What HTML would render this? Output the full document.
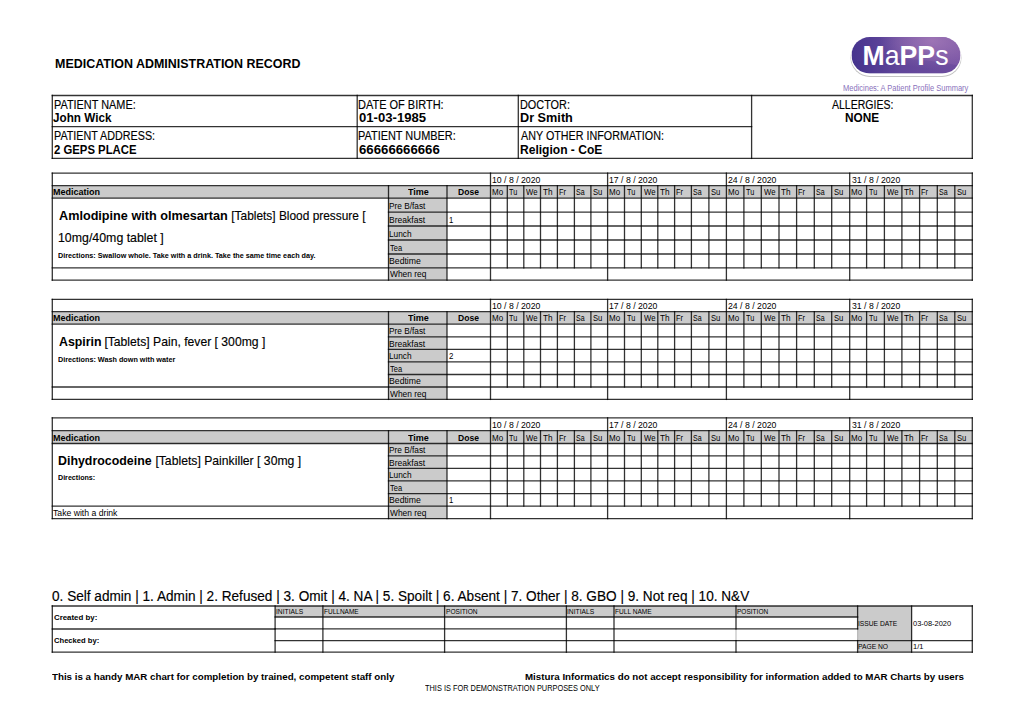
<!DOCTYPE html><html><head><meta charset="utf-8"><title>MAR</title><style>
html,body{margin:0;padding:0;background:#fff;}body{width:1024px;height:724px;position:relative;overflow:hidden;font-family:"Liberation Sans",sans-serif;}
.r{position:absolute;}.t{position:absolute;white-space:pre;line-height:0;transform-origin:0 0;}.s{-webkit-text-stroke:0.15px currentColor;}
</style></head><body>
<div class="r" style="left:52.00px;top:186.00px;width:920.00px;height:12.00px;background:#cbcbcb"></div>
<div class="r" style="left:388.00px;top:198.00px;width:59.00px;height:82.00px;background:#cbcbcb"></div>
<div class="r" style="left:52.00px;top:312.00px;width:920.00px;height:12.00px;background:#cbcbcb"></div>
<div class="r" style="left:388.00px;top:324.00px;width:59.00px;height:75.00px;background:#cbcbcb"></div>
<div class="r" style="left:52.00px;top:431.00px;width:920.00px;height:13.00px;background:#cbcbcb"></div>
<div class="r" style="left:388.00px;top:444.00px;width:59.00px;height:75.00px;background:#cbcbcb"></div>
<div class="r" style="left:275.00px;top:606.00px;width:583.00px;height:11.00px;background:#cbcbcb"></div>
<div class="r" style="left:858.00px;top:606.00px;width:54.00px;height:46.00px;background:#cbcbcb"></div>
<svg class="r" style="left:0;top:0" width="1024" height="724"><g stroke="#000" stroke-opacity="0.8" stroke-width="1.3" fill="none"><path d="M51.65 95.50H972.95"/><path d="M51.65 158.40H972.95"/><path d="M51.65 126.60H752.25"/><path d="M52.30 94.85V159.05"/><path d="M357.20 94.85V159.05"/><path d="M518.30 94.85V159.05"/><path d="M751.60 94.85V159.05"/><path d="M972.30 94.85V159.05"/><path d="M51.65 173.10H972.95"/><path d="M51.65 185.70H972.95"/><path d="M51.65 198.10H972.95"/><path d="M51.65 267.80H972.95"/><path d="M51.65 280.10H972.95"/><path d="M387.85 212.10H972.95"/><path d="M387.85 226.00H972.95"/><path d="M387.85 240.00H972.95"/><path d="M387.85 254.00H972.95"/><path d="M52.30 172.45V280.75"/><path d="M972.30 172.45V280.75"/><path d="M388.50 185.05V280.75"/><path d="M447.00 185.05V280.75"/><path d="M490.50 172.45V280.75"/><path d="M507.30 185.05V268.45"/><path d="M523.80 185.05V268.45"/><path d="M540.50 185.05V268.45"/><path d="M557.40 185.05V268.45"/><path d="M574.40 185.05V268.45"/><path d="M590.90 185.05V268.45"/><path d="M607.60 172.45V280.75"/><path d="M624.50 185.05V268.45"/><path d="M641.30 185.05V268.45"/><path d="M657.80 185.05V268.45"/><path d="M674.60 185.05V268.45"/><path d="M691.40 185.05V268.45"/><path d="M708.90 185.05V268.45"/><path d="M726.40 172.45V280.75"/><path d="M743.90 185.05V268.45"/><path d="M761.30 185.05V268.45"/><path d="M779.00 185.05V268.45"/><path d="M796.60 185.05V268.45"/><path d="M814.30 185.05V268.45"/><path d="M831.70 185.05V268.45"/><path d="M849.70 172.45V280.75"/><path d="M866.60 185.05V268.45"/><path d="M884.40 185.05V268.45"/><path d="M901.90 185.05V268.45"/><path d="M919.60 185.05V268.45"/><path d="M937.30 185.05V268.45"/><path d="M954.80 185.05V268.45"/><path d="M51.65 299.40H972.95"/><path d="M51.65 311.60H972.95"/><path d="M51.65 324.20H972.95"/><path d="M51.65 387.00H972.95"/><path d="M51.65 399.40H972.95"/><path d="M387.85 336.80H972.95"/><path d="M387.85 349.30H972.95"/><path d="M387.85 361.80H972.95"/><path d="M387.85 374.50H972.95"/><path d="M52.30 298.75V400.05"/><path d="M972.30 298.75V400.05"/><path d="M388.50 310.95V400.05"/><path d="M447.00 310.95V400.05"/><path d="M490.50 298.75V400.05"/><path d="M507.30 310.95V387.65"/><path d="M523.80 310.95V387.65"/><path d="M540.50 310.95V387.65"/><path d="M557.40 310.95V387.65"/><path d="M574.40 310.95V387.65"/><path d="M590.90 310.95V387.65"/><path d="M607.60 298.75V400.05"/><path d="M624.50 310.95V387.65"/><path d="M641.30 310.95V387.65"/><path d="M657.80 310.95V387.65"/><path d="M674.60 310.95V387.65"/><path d="M691.40 310.95V387.65"/><path d="M708.90 310.95V387.65"/><path d="M726.40 298.75V400.05"/><path d="M743.90 310.95V387.65"/><path d="M761.30 310.95V387.65"/><path d="M779.00 310.95V387.65"/><path d="M796.60 310.95V387.65"/><path d="M814.30 310.95V387.65"/><path d="M831.70 310.95V387.65"/><path d="M849.70 298.75V400.05"/><path d="M866.60 310.95V387.65"/><path d="M884.40 310.95V387.65"/><path d="M901.90 310.95V387.65"/><path d="M919.60 310.95V387.65"/><path d="M937.30 310.95V387.65"/><path d="M954.80 310.95V387.65"/><path d="M51.65 417.80H972.95"/><path d="M51.65 430.70H972.95"/><path d="M51.65 443.50H972.95"/><path d="M51.65 506.10H972.95"/><path d="M51.65 518.60H972.95"/><path d="M387.85 455.90H972.95"/><path d="M387.85 468.30H972.95"/><path d="M387.85 480.90H972.95"/><path d="M387.85 493.70H972.95"/><path d="M52.30 417.15V519.25"/><path d="M972.30 417.15V519.25"/><path d="M388.50 430.05V519.25"/><path d="M447.00 430.05V519.25"/><path d="M490.50 417.15V519.25"/><path d="M507.30 430.05V506.75"/><path d="M523.80 430.05V506.75"/><path d="M540.50 430.05V506.75"/><path d="M557.40 430.05V506.75"/><path d="M574.40 430.05V506.75"/><path d="M590.90 430.05V506.75"/><path d="M607.60 417.15V519.25"/><path d="M624.50 430.05V506.75"/><path d="M641.30 430.05V506.75"/><path d="M657.80 430.05V506.75"/><path d="M674.60 430.05V506.75"/><path d="M691.40 430.05V506.75"/><path d="M708.90 430.05V506.75"/><path d="M726.40 417.15V519.25"/><path d="M743.90 430.05V506.75"/><path d="M761.30 430.05V506.75"/><path d="M779.00 430.05V506.75"/><path d="M796.60 430.05V506.75"/><path d="M814.30 430.05V506.75"/><path d="M831.70 430.05V506.75"/><path d="M849.70 417.15V519.25"/><path d="M866.60 430.05V506.75"/><path d="M884.40 430.05V506.75"/><path d="M901.90 430.05V506.75"/><path d="M919.60 430.05V506.75"/><path d="M937.30 430.05V506.75"/><path d="M954.80 430.05V506.75"/><path d="M51.65 606.00H972.95"/><path d="M51.65 652.20H972.95"/><path d="M52.30 605.35V652.85"/><path d="M972.30 605.35V652.85"/><path d="M275.10 605.35V652.85"/><path d="M51.65 629.00H275.75"/><path d="M322.90 605.35V652.85"/><path d="M444.60 605.35V652.85"/><path d="M566.40 605.35V652.85"/><path d="M614.00 605.35V652.85"/><path d="M911.60 605.35V652.85"/><path d="M736.00 605.35V629.45"/><path d="M736.00 639.95V652.85"/><path d="M857.60 605.35V629.45"/><path d="M857.60 639.95V652.85"/><path d="M274.45 617.00H858.25"/><path d="M274.45 628.80H858.25"/><path d="M274.45 640.60H972.95"/></g><g stroke="#000" stroke-opacity="0.3" stroke-width="1" fill="none"><path d="M736.00 628.80V640.60"/><path d="M857.60 628.80V640.60"/></g></svg>
<svg style="position:absolute;left:840px;top:30px" width="140" height="52" viewBox="840 30 140 52">
<defs>
<linearGradient id="pg" x1="0" y1="0" x2="1" y2="0">
<stop offset="0" stop-color="#45338e"/><stop offset="0.45" stop-color="#6a4d9f"/><stop offset="1" stop-color="#7a55a5"/>
</linearGradient>
<radialGradient id="hl" cx="932" cy="41" r="40" gradientUnits="userSpaceOnUse" gradientTransform="translate(932 41) scale(1.3 0.7) translate(-932 -41)">
<stop offset="0" stop-color="#a57bb8" stop-opacity="0.85"/><stop offset="1" stop-color="#a57bb8" stop-opacity="0"/>
</radialGradient>
<clipPath id="pc"><rect x="851.5" y="37" width="109" height="36.5" rx="18.25"/></clipPath>
</defs>
<rect x="850.5" y="38.5" width="111" height="38.5" rx="19.25" fill="#c4c4c4"/>
<rect x="850.8" y="37.3" width="110.4" height="38.6" rx="19.3" fill="#fff"/>
<g clip-path="url(#pc)">
<rect x="851.5" y="37" width="109" height="36.5" fill="url(#pg)"/>
<rect x="851.5" y="37" width="109" height="36.5" fill="url(#hl)"/>
<path d="M851 62 Q905 54 961 66 L961 74 L851 74 Z" fill="#3f2e86" fill-opacity="0.18"/>
</g>
<text x="862.5" y="65" font-family="Liberation Sans" font-size="28.5" fill="#fff" font-weight="bold" textLength="86" lengthAdjust="spacingAndGlyphs">M<tspan font-weight="normal">a</tspan>PP<tspan font-weight="normal">s</tspan></text>
</svg>

<span class="t" style="left:54.65px;top:63.50px;font-size:12.98px;font-weight:bold;transform:scaleX(0.9608)">MEDICATION ADMINISTRATION RECORD</span>
<span class="t s" style="left:53.53px;top:104.57px;font-size:12.50px;transform:scaleX(0.8710)">PATIENT NAME:</span>
<span class="t" style="left:53.18px;top:118.47px;font-size:12.50px;font-weight:bold;transform:scaleX(0.9359)">John Wick</span>
<span class="t s" style="left:53.54px;top:135.97px;font-size:12.50px;transform:scaleX(0.8609)">PATIENT ADDRESS:</span>
<span class="t" style="left:54.06px;top:149.87px;font-size:12.50px;font-weight:bold;transform:scaleX(0.9065)">2 GEPS PLACE</span>
<span class="t s" style="left:358.22px;top:104.57px;font-size:12.50px;transform:scaleX(0.8791)">DATE OF BIRTH:</span>
<span class="t" style="left:358.71px;top:118.07px;font-size:12.50px;font-weight:bold;transform:scaleX(1.0488)">01-03-1985</span>
<span class="t s" style="left:358.23px;top:136.17px;font-size:12.50px;transform:scaleX(0.8744)">PATIENT NUMBER:</span>
<span class="t" style="left:358.70px;top:149.97px;font-size:12.50px;font-weight:bold;transform:scaleX(1.0567)">66666666666</span>
<span class="t s" style="left:519.63px;top:104.57px;font-size:12.50px;transform:scaleX(0.8700)">DOCTOR:</span>
<span class="t" style="left:519.74px;top:118.07px;font-size:12.50px;font-weight:bold;transform:scaleX(1.0147)">Dr Smith</span>
<span class="t s" style="left:520.50px;top:136.17px;font-size:12.50px;transform:scaleX(0.8598)">ANY OTHER INFORMATION:</span>
<span class="t" style="left:519.78px;top:149.97px;font-size:12.50px;font-weight:bold;transform:scaleX(0.9636)">Religion - CoE</span>
<span class="t s" style="left:831.50px;top:104.57px;font-size:12.50px;transform:scaleX(0.8410)">ALLERGIES:</span>
<span class="t" style="left:844.79px;top:118.07px;font-size:12.50px;font-weight:bold;transform:scaleX(0.9430)">NONE</span>
<span class="t" style="left:53.26px;top:192.42px;font-size:8.89px;font-weight:bold;transform:scaleX(1.0160)">Medication</span>
<span class="t" style="left:407.67px;top:192.42px;font-size:8.89px;font-weight:bold;transform:scaleX(1.0149)">Time</span>
<span class="t" style="left:458.11px;top:192.42px;font-size:8.89px;font-weight:bold;transform:scaleX(0.9652)">Dose</span>
<span class="t" style="left:492.09px;top:179.92px;font-size:8.89px;transform:scaleX(0.9801)">10 / 8 / 2020</span>
<span class="t" style="left:492.06px;top:192.42px;font-size:8.89px;transform:scaleX(0.9025)">Mo</span>
<span class="t" style="left:509.35px;top:192.42px;font-size:8.89px;transform:scaleX(0.8189)">Tu</span>
<span class="t" style="left:526.00px;top:192.42px;font-size:8.89px;transform:scaleX(0.8702)">We</span>
<span class="t" style="left:542.54px;top:192.42px;font-size:8.89px;transform:scaleX(0.9249)">Th</span>
<span class="t" style="left:559.01px;top:192.42px;font-size:8.89px;transform:scaleX(0.8337)">Fr</span>
<span class="t" style="left:576.32px;top:192.42px;font-size:8.89px;transform:scaleX(0.7954)">Sa</span>
<span class="t" style="left:592.79px;top:192.42px;font-size:8.89px;transform:scaleX(0.8623)">Su</span>
<span class="t" style="left:609.19px;top:179.92px;font-size:8.89px;transform:scaleX(0.9801)">17 / 8 / 2020</span>
<span class="t" style="left:609.16px;top:192.42px;font-size:8.89px;transform:scaleX(0.9025)">Mo</span>
<span class="t" style="left:626.55px;top:192.42px;font-size:8.89px;transform:scaleX(0.8189)">Tu</span>
<span class="t" style="left:643.50px;top:192.42px;font-size:8.89px;transform:scaleX(0.8702)">We</span>
<span class="t" style="left:659.84px;top:192.42px;font-size:8.89px;transform:scaleX(0.9249)">Th</span>
<span class="t" style="left:676.21px;top:192.42px;font-size:8.89px;transform:scaleX(0.8337)">Fr</span>
<span class="t" style="left:693.32px;top:192.42px;font-size:8.89px;transform:scaleX(0.7954)">Sa</span>
<span class="t" style="left:710.79px;top:192.42px;font-size:8.89px;transform:scaleX(0.8623)">Su</span>
<span class="t" style="left:728.16px;top:179.92px;font-size:8.89px;transform:scaleX(0.9817)">24 / 8 / 2020</span>
<span class="t" style="left:727.96px;top:192.42px;font-size:8.89px;transform:scaleX(0.9025)">Mo</span>
<span class="t" style="left:745.95px;top:192.42px;font-size:8.89px;transform:scaleX(0.8189)">Tu</span>
<span class="t" style="left:763.50px;top:192.42px;font-size:8.89px;transform:scaleX(0.8702)">We</span>
<span class="t" style="left:781.04px;top:192.42px;font-size:8.89px;transform:scaleX(0.9249)">Th</span>
<span class="t" style="left:798.21px;top:192.42px;font-size:8.89px;transform:scaleX(0.8337)">Fr</span>
<span class="t" style="left:816.22px;top:192.42px;font-size:8.89px;transform:scaleX(0.7954)">Sa</span>
<span class="t" style="left:833.59px;top:192.42px;font-size:8.89px;transform:scaleX(0.8623)">Su</span>
<span class="t" style="left:851.64px;top:179.92px;font-size:8.89px;transform:scaleX(0.9782)">31 / 8 / 2020</span>
<span class="t" style="left:851.26px;top:192.42px;font-size:8.89px;transform:scaleX(0.9025)">Mo</span>
<span class="t" style="left:868.65px;top:192.42px;font-size:8.89px;transform:scaleX(0.8189)">Tu</span>
<span class="t" style="left:886.60px;top:192.42px;font-size:8.89px;transform:scaleX(0.8702)">We</span>
<span class="t" style="left:903.94px;top:192.42px;font-size:8.89px;transform:scaleX(0.9249)">Th</span>
<span class="t" style="left:921.21px;top:192.42px;font-size:8.89px;transform:scaleX(0.8337)">Fr</span>
<span class="t" style="left:939.22px;top:192.42px;font-size:8.89px;transform:scaleX(0.7954)">Sa</span>
<span class="t" style="left:956.69px;top:192.42px;font-size:8.89px;transform:scaleX(0.8623)">Su</span>
<span class="t" style="left:389.34px;top:205.62px;font-size:8.89px;transform:scaleX(0.9338)">Pre B/fast</span>
<span class="t" style="left:389.32px;top:219.57px;font-size:8.89px;transform:scaleX(0.9618)">Breakfast</span>
<span class="t" style="left:389.34px;top:233.52px;font-size:8.89px;transform:scaleX(0.9341)">Lunch</span>
<span class="t" style="left:389.85px;top:247.52px;font-size:8.89px;transform:scaleX(0.8432)">Tea</span>
<span class="t" style="left:389.30px;top:261.42px;font-size:8.89px;transform:scaleX(0.9789)">Bedtime</span>
<span class="t" style="left:390.00px;top:274.47px;font-size:8.89px;transform:scaleX(0.9439)">When req</span>
<span class="t" style="left:448.76px;top:219.57px;font-size:8.89px;transform:scaleX(0.8658)">1</span>
<span class="t" style="left:58.65px;top:216.11px;font-size:12.39px;font-weight:bold;transform:scaleX(1.0224)">Amlodipine with olmesartan</span>
<span class="t s" style="left:227.57px;top:216.11px;font-size:12.39px;transform:scaleX(0.9613)"> [Tablets] Blood pressure [</span>
<span class="t s" style="left:57.93px;top:238.41px;font-size:12.39px;transform:scaleX(0.9985)">10mg/40mg tablet ]</span>
<span class="t" style="left:58.37px;top:255.84px;font-size:7.09px;font-weight:bold;transform:scaleX(1.0214)">Directions: Swallow whole. Take with a drink. Take the same time each day.</span>
<span class="t" style="left:53.26px;top:318.42px;font-size:8.89px;font-weight:bold;transform:scaleX(1.0160)">Medication</span>
<span class="t" style="left:407.67px;top:318.42px;font-size:8.89px;font-weight:bold;transform:scaleX(1.0149)">Time</span>
<span class="t" style="left:458.11px;top:318.42px;font-size:8.89px;font-weight:bold;transform:scaleX(0.9652)">Dose</span>
<span class="t" style="left:492.09px;top:306.02px;font-size:8.89px;transform:scaleX(0.9801)">10 / 8 / 2020</span>
<span class="t" style="left:492.06px;top:318.42px;font-size:8.89px;transform:scaleX(0.9025)">Mo</span>
<span class="t" style="left:509.35px;top:318.42px;font-size:8.89px;transform:scaleX(0.8189)">Tu</span>
<span class="t" style="left:526.00px;top:318.42px;font-size:8.89px;transform:scaleX(0.8702)">We</span>
<span class="t" style="left:542.54px;top:318.42px;font-size:8.89px;transform:scaleX(0.9249)">Th</span>
<span class="t" style="left:559.01px;top:318.42px;font-size:8.89px;transform:scaleX(0.8337)">Fr</span>
<span class="t" style="left:576.32px;top:318.42px;font-size:8.89px;transform:scaleX(0.7954)">Sa</span>
<span class="t" style="left:592.79px;top:318.42px;font-size:8.89px;transform:scaleX(0.8623)">Su</span>
<span class="t" style="left:609.19px;top:306.02px;font-size:8.89px;transform:scaleX(0.9801)">17 / 8 / 2020</span>
<span class="t" style="left:609.16px;top:318.42px;font-size:8.89px;transform:scaleX(0.9025)">Mo</span>
<span class="t" style="left:626.55px;top:318.42px;font-size:8.89px;transform:scaleX(0.8189)">Tu</span>
<span class="t" style="left:643.50px;top:318.42px;font-size:8.89px;transform:scaleX(0.8702)">We</span>
<span class="t" style="left:659.84px;top:318.42px;font-size:8.89px;transform:scaleX(0.9249)">Th</span>
<span class="t" style="left:676.21px;top:318.42px;font-size:8.89px;transform:scaleX(0.8337)">Fr</span>
<span class="t" style="left:693.32px;top:318.42px;font-size:8.89px;transform:scaleX(0.7954)">Sa</span>
<span class="t" style="left:710.79px;top:318.42px;font-size:8.89px;transform:scaleX(0.8623)">Su</span>
<span class="t" style="left:728.16px;top:306.02px;font-size:8.89px;transform:scaleX(0.9817)">24 / 8 / 2020</span>
<span class="t" style="left:727.96px;top:318.42px;font-size:8.89px;transform:scaleX(0.9025)">Mo</span>
<span class="t" style="left:745.95px;top:318.42px;font-size:8.89px;transform:scaleX(0.8189)">Tu</span>
<span class="t" style="left:763.50px;top:318.42px;font-size:8.89px;transform:scaleX(0.8702)">We</span>
<span class="t" style="left:781.04px;top:318.42px;font-size:8.89px;transform:scaleX(0.9249)">Th</span>
<span class="t" style="left:798.21px;top:318.42px;font-size:8.89px;transform:scaleX(0.8337)">Fr</span>
<span class="t" style="left:816.22px;top:318.42px;font-size:8.89px;transform:scaleX(0.7954)">Sa</span>
<span class="t" style="left:833.59px;top:318.42px;font-size:8.89px;transform:scaleX(0.8623)">Su</span>
<span class="t" style="left:851.64px;top:306.02px;font-size:8.89px;transform:scaleX(0.9782)">31 / 8 / 2020</span>
<span class="t" style="left:851.26px;top:318.42px;font-size:8.89px;transform:scaleX(0.9025)">Mo</span>
<span class="t" style="left:868.65px;top:318.42px;font-size:8.89px;transform:scaleX(0.8189)">Tu</span>
<span class="t" style="left:886.60px;top:318.42px;font-size:8.89px;transform:scaleX(0.8702)">We</span>
<span class="t" style="left:903.94px;top:318.42px;font-size:8.89px;transform:scaleX(0.9249)">Th</span>
<span class="t" style="left:921.21px;top:318.42px;font-size:8.89px;transform:scaleX(0.8337)">Fr</span>
<span class="t" style="left:939.22px;top:318.42px;font-size:8.89px;transform:scaleX(0.7954)">Sa</span>
<span class="t" style="left:956.69px;top:318.42px;font-size:8.89px;transform:scaleX(0.8623)">Su</span>
<span class="t" style="left:389.34px;top:331.02px;font-size:8.89px;transform:scaleX(0.9338)">Pre B/fast</span>
<span class="t" style="left:389.32px;top:343.57px;font-size:8.89px;transform:scaleX(0.9618)">Breakfast</span>
<span class="t" style="left:389.34px;top:356.07px;font-size:8.89px;transform:scaleX(0.9341)">Lunch</span>
<span class="t" style="left:389.85px;top:368.67px;font-size:8.89px;transform:scaleX(0.8432)">Tea</span>
<span class="t" style="left:389.30px;top:381.27px;font-size:8.89px;transform:scaleX(0.9789)">Bedtime</span>
<span class="t" style="left:390.00px;top:393.72px;font-size:8.89px;transform:scaleX(0.9439)">When req</span>
<span class="t" style="left:448.90px;top:356.07px;font-size:8.89px;transform:scaleX(0.8903)">2</span>
<span class="t" style="left:58.65px;top:341.91px;font-size:12.39px;font-weight:bold;transform:scaleX(0.9987)">Aspirin</span>
<span class="t s" style="left:101.22px;top:341.91px;font-size:12.39px;transform:scaleX(0.9830)"> [Tablets] Pain, fever [ 300mg ]</span>
<span class="t" style="left:58.36px;top:359.64px;font-size:7.09px;font-weight:bold;transform:scaleX(1.0234)">Directions: Wash down with water</span>
<span class="t" style="left:53.26px;top:437.62px;font-size:8.89px;font-weight:bold;transform:scaleX(1.0160)">Medication</span>
<span class="t" style="left:407.67px;top:437.62px;font-size:8.89px;font-weight:bold;transform:scaleX(1.0149)">Time</span>
<span class="t" style="left:458.11px;top:437.62px;font-size:8.89px;font-weight:bold;transform:scaleX(0.9652)">Dose</span>
<span class="t" style="left:492.09px;top:424.77px;font-size:8.89px;transform:scaleX(0.9801)">10 / 8 / 2020</span>
<span class="t" style="left:492.06px;top:437.62px;font-size:8.89px;transform:scaleX(0.9025)">Mo</span>
<span class="t" style="left:509.35px;top:437.62px;font-size:8.89px;transform:scaleX(0.8189)">Tu</span>
<span class="t" style="left:526.00px;top:437.62px;font-size:8.89px;transform:scaleX(0.8702)">We</span>
<span class="t" style="left:542.54px;top:437.62px;font-size:8.89px;transform:scaleX(0.9249)">Th</span>
<span class="t" style="left:559.01px;top:437.62px;font-size:8.89px;transform:scaleX(0.8337)">Fr</span>
<span class="t" style="left:576.32px;top:437.62px;font-size:8.89px;transform:scaleX(0.7954)">Sa</span>
<span class="t" style="left:592.79px;top:437.62px;font-size:8.89px;transform:scaleX(0.8623)">Su</span>
<span class="t" style="left:609.19px;top:424.77px;font-size:8.89px;transform:scaleX(0.9801)">17 / 8 / 2020</span>
<span class="t" style="left:609.16px;top:437.62px;font-size:8.89px;transform:scaleX(0.9025)">Mo</span>
<span class="t" style="left:626.55px;top:437.62px;font-size:8.89px;transform:scaleX(0.8189)">Tu</span>
<span class="t" style="left:643.50px;top:437.62px;font-size:8.89px;transform:scaleX(0.8702)">We</span>
<span class="t" style="left:659.84px;top:437.62px;font-size:8.89px;transform:scaleX(0.9249)">Th</span>
<span class="t" style="left:676.21px;top:437.62px;font-size:8.89px;transform:scaleX(0.8337)">Fr</span>
<span class="t" style="left:693.32px;top:437.62px;font-size:8.89px;transform:scaleX(0.7954)">Sa</span>
<span class="t" style="left:710.79px;top:437.62px;font-size:8.89px;transform:scaleX(0.8623)">Su</span>
<span class="t" style="left:728.16px;top:424.77px;font-size:8.89px;transform:scaleX(0.9817)">24 / 8 / 2020</span>
<span class="t" style="left:727.96px;top:437.62px;font-size:8.89px;transform:scaleX(0.9025)">Mo</span>
<span class="t" style="left:745.95px;top:437.62px;font-size:8.89px;transform:scaleX(0.8189)">Tu</span>
<span class="t" style="left:763.50px;top:437.62px;font-size:8.89px;transform:scaleX(0.8702)">We</span>
<span class="t" style="left:781.04px;top:437.62px;font-size:8.89px;transform:scaleX(0.9249)">Th</span>
<span class="t" style="left:798.21px;top:437.62px;font-size:8.89px;transform:scaleX(0.8337)">Fr</span>
<span class="t" style="left:816.22px;top:437.62px;font-size:8.89px;transform:scaleX(0.7954)">Sa</span>
<span class="t" style="left:833.59px;top:437.62px;font-size:8.89px;transform:scaleX(0.8623)">Su</span>
<span class="t" style="left:851.64px;top:424.77px;font-size:8.89px;transform:scaleX(0.9782)">31 / 8 / 2020</span>
<span class="t" style="left:851.26px;top:437.62px;font-size:8.89px;transform:scaleX(0.9025)">Mo</span>
<span class="t" style="left:868.65px;top:437.62px;font-size:8.89px;transform:scaleX(0.8189)">Tu</span>
<span class="t" style="left:886.60px;top:437.62px;font-size:8.89px;transform:scaleX(0.8702)">We</span>
<span class="t" style="left:903.94px;top:437.62px;font-size:8.89px;transform:scaleX(0.9249)">Th</span>
<span class="t" style="left:921.21px;top:437.62px;font-size:8.89px;transform:scaleX(0.8337)">Fr</span>
<span class="t" style="left:939.22px;top:437.62px;font-size:8.89px;transform:scaleX(0.7954)">Sa</span>
<span class="t" style="left:956.69px;top:437.62px;font-size:8.89px;transform:scaleX(0.8623)">Su</span>
<span class="t" style="left:389.34px;top:450.22px;font-size:8.89px;transform:scaleX(0.9338)">Pre B/fast</span>
<span class="t" style="left:389.32px;top:462.62px;font-size:8.89px;transform:scaleX(0.9618)">Breakfast</span>
<span class="t" style="left:389.34px;top:475.12px;font-size:8.89px;transform:scaleX(0.9341)">Lunch</span>
<span class="t" style="left:389.85px;top:487.82px;font-size:8.89px;transform:scaleX(0.8432)">Tea</span>
<span class="t" style="left:389.30px;top:500.42px;font-size:8.89px;transform:scaleX(0.9789)">Bedtime</span>
<span class="t" style="left:390.00px;top:512.87px;font-size:8.89px;transform:scaleX(0.9439)">When req</span>
<span class="t" style="left:448.76px;top:500.42px;font-size:8.89px;transform:scaleX(0.8658)">1</span>
<span class="t" style="left:58.16px;top:460.91px;font-size:12.39px;font-weight:bold;transform:scaleX(1.0012)">Dihydrocodeine</span>
<span class="t s" style="left:152.00px;top:460.91px;font-size:12.39px;transform:scaleX(0.9856)"> [Tablets] Painkiller [ 30mg ]</span>
<span class="t" style="left:58.37px;top:478.24px;font-size:7.09px;font-weight:bold;transform:scaleX(1.0059)">Directions:</span>
<span class="t" style="left:53.33px;top:512.87px;font-size:8.89px;transform:scaleX(0.9751)">Take with a drink</span>
<span class="t s" style="left:51.79px;top:596.32px;font-size:14.07px;transform:scaleX(0.9678)">0. Self admin | 1. Admin | 2. Refused | 3. Omit | 4. NA | 5. Spoilt | 6. Absent | 7. Other | 8. GBO | 9. Not req | 10. N&amp;V</span>
<span class="t" style="left:53.58px;top:618.03px;font-size:7.70px;font-weight:bold;transform:scaleX(1.0238)">Created by:</span>
<span class="t" style="left:53.60px;top:640.73px;font-size:7.70px;font-weight:bold;transform:scaleX(0.9885)">Checked by:</span>
<span class="t" style="left:276.10px;top:611.97px;font-size:7.88px;transform:scaleX(0.8499)">INITIALS</span>
<span class="t" style="left:323.88px;top:611.97px;font-size:7.88px;transform:scaleX(0.8251)">FULLNAME</span>
<span class="t" style="left:445.57px;top:611.97px;font-size:7.88px;transform:scaleX(0.8399)">POSITION</span>
<span class="t" style="left:567.20px;top:611.97px;font-size:7.88px;transform:scaleX(0.8531)">INITIALS</span>
<span class="t" style="left:615.27px;top:611.97px;font-size:7.88px;transform:scaleX(0.8342)">FULL NAME</span>
<span class="t" style="left:737.18px;top:611.97px;font-size:7.88px;transform:scaleX(0.8290)">POSITION</span>
<span class="t" style="left:858.20px;top:623.57px;font-size:7.88px;transform:scaleX(0.8488)">ISSUE DATE</span>
<span class="t" style="left:913.18px;top:623.57px;font-size:7.88px;transform:scaleX(0.9456)">03-08-2020</span>
<span class="t" style="left:858.26px;top:647.27px;font-size:7.88px;transform:scaleX(0.8515)">PAGE NO</span>
<span class="t" style="left:912.87px;top:647.27px;font-size:7.88px;transform:scaleX(0.9569)">1/1</span>
<span class="t" style="left:52.10px;top:677.29px;font-size:9.55px;font-weight:bold;transform:scaleX(1.0212)">This is a handy MAR chart for completion by trained, competent staff only</span>
<span class="t" style="left:525.21px;top:677.29px;font-size:9.55px;font-weight:bold;transform:scaleX(1.0216)">Mistura Informatics do not accept responsibility for information added to MAR Charts by users</span>
<span class="t" style="left:424.85px;top:688.20px;font-size:8.66px;transform:scaleX(0.8533)">THIS IS FOR DEMONSTRATION PURPOSES ONLY</span>
<span class="t" style="left:842.70px;top:87.94px;font-size:8.82px;color:#8a72bc;transform:scaleX(0.8532)">Medicines: A Patient Profile Summary</span>
</body></html>
